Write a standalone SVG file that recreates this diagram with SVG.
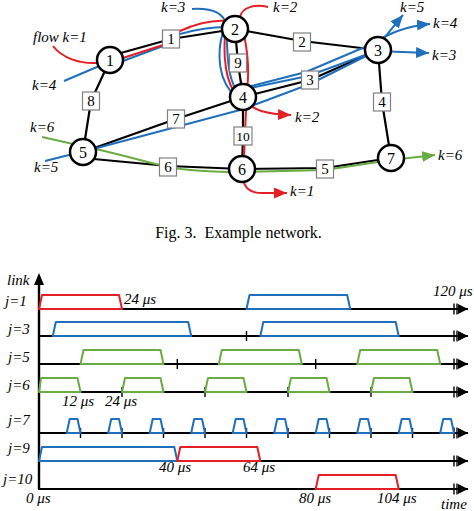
<svg xmlns="http://www.w3.org/2000/svg" width="474" height="511" viewBox="0 0 474 511">
<style>
text { font-family: "Liberation Serif", "Times New Roman", serif; fill:#000; }
.it { font-style: italic; font-size: 15px; }
.cap { font-size: 16px; text-anchor: middle; }
.edge { fill:none; stroke:#000; stroke-width:2.2; stroke-linejoin:round; }
.fr { fill:none; stroke:#e41f26; stroke-width:2; stroke-linejoin:round; }
.fb { fill:none; stroke:#1f6fbd; stroke-width:2; stroke-linejoin:round; }
.fg { fill:none; stroke:#6aab44; stroke-width:2; stroke-linejoin:round; }
.node circle { fill:#fff; stroke:#000; stroke-width:2.5; }
.node text { font-size:16px; text-anchor:middle; }
.lbl rect { fill:#fff; stroke:#808080; stroke-width:1.2; }
.lbl text { font-size:15px; text-anchor:middle; }
.axis { stroke:#000; stroke-width:2; fill:none; }
.tick { stroke:#000; stroke-width:1.4; fill:none; }
.pr { fill:none; stroke:#e41f26; stroke-width:2; stroke-linejoin:round; }
.pb { fill:none; stroke:#1f6fbd; stroke-width:2; stroke-linejoin:round; }
.pg { fill:none; stroke:#6aab44; stroke-width:2; stroke-linejoin:round; }
</style>
<defs>
<marker id="mr" markerUnits="userSpaceOnUse" viewBox="0 0 13 11" markerWidth="13" markerHeight="11" refX="13" refY="5.5" orient="auto"><path d="M0,0 L13,5.5 L0,11 z" fill="#e41f26"/></marker>
<marker id="mb" markerUnits="userSpaceOnUse" viewBox="0 0 13 11" markerWidth="13" markerHeight="11" refX="13" refY="5.5" orient="auto"><path d="M0,0 L13,5.5 L0,11 z" fill="#1f6fbd"/></marker>
<marker id="mg" markerUnits="userSpaceOnUse" viewBox="0 0 13 11" markerWidth="13" markerHeight="11" refX="13" refY="5.5" orient="auto"><path d="M0,0 L13,5.5 L0,11 z" fill="#6aab44"/></marker>
<marker id="mk" markerUnits="userSpaceOnUse" viewBox="0 0 10 10" markerWidth="10" markerHeight="10" refX="10" refY="5" orient="auto"><path d="M0,0 L10,5 L0,10 z" fill="#000"/></marker>
</defs>

<!-- network edges -->
<g id="edges">
<path class="edge" d="M110,56 L171,39 L235,29"/>
<path class="edge" d="M235,29 L302,41 L378,50"/>
<path class="edge" d="M243,97 L310,80 L378,50"/>
<path class="edge" d="M378,50 L382,102 L391,158"/>
<path class="edge" d="M242,169 L325,168 L391,158"/>
<path class="edge" d="M83,158 L168,166 L242,169"/>
<path class="edge" d="M83,152 L176,119 L243,97"/>
<path class="edge" d="M110,60 L91,101 L83,152"/>
<path class="edge" d="M235,29 L238,63 L243,97"/>
<path class="edge" d="M243,97 L243,136 L242,169"/>
</g>

<!-- flows -->
<g id="flows">
<path class="fg" marker-end="url(#mg)" d="M42,137 L100,150 C130,157 150,163 168,167 C190,171 215,172 241,172 L325,170 L391,160 L435,155"/>
<path class="fb" marker-end="url(#mb)" d="M45,161 L97,148 L240,110 L262,102 L310,84 L370,54 C382,42 392,28 403,15"/>
<path class="fb" marker-end="url(#mb)" d="M64,81 L97,67 L123,61 L163,46 L180,34 C198,29 212,27 226,27 C228,50 226,72 236,90 L306,72 L372,44 C388,34 405,26 430,24"/>
<path class="fb" marker-end="url(#mb)" d="M192,9 C210,8 223,12 226,24 C218,42 215,72 231,92 L308,76 L376,51 L429,53"/>
<path class="fr" marker-end="url(#mr)" d="M53,46 C62,58 80,64 97,63 L123,58 L163,45 L180,31 C198,23 212,20 226,21 C224,42 222,72 234,92 L246,110 L244,158 L243,178 C244,188 250,193 262,193 L287,193"/>
<path class="fr" marker-end="url(#mr)" d="M268,7 C255,4 242,7 240,17 C246,40 250,68 247,88 L248,102 C252,110 265,114 291,115"/>
</g>

<!-- link labels -->
<g id="link1" class="lbl"><rect x="162.5" y="30" width="17" height="18"/><text x="171" y="44">1</text></g>
<g id="link2" class="lbl"><rect x="293.5" y="33" width="17" height="18"/><text x="302" y="47">2</text></g>
<g id="link3" class="lbl"><rect x="301.5" y="71" width="17" height="18"/><text x="310" y="85">3</text></g>
<g id="link4" class="lbl"><rect x="373.5" y="93" width="17" height="18"/><text x="382" y="107">4</text></g>
<g id="link5" class="lbl"><rect x="316.5" y="160" width="17" height="18"/><text x="325" y="174">5</text></g>
<g id="link6" class="lbl"><rect x="159.5" y="158" width="17" height="18"/><text x="168" y="172">6</text></g>
<g id="link7" class="lbl"><rect x="167.5" y="110" width="17" height="18"/><text x="176" y="124">7</text></g>
<g id="link8" class="lbl"><rect x="82.5" y="92" width="17" height="18"/><text x="91" y="106">8</text></g>
<g id="link9" class="lbl"><rect x="229.5" y="54" width="17" height="18"/><text x="238" y="68">9</text></g>
<g id="link10" class="lbl"><rect x="234" y="127" width="18" height="18"/><text x="243" y="141" style="font-size:13.5px">10</text></g>

<!-- nodes -->
<g id="node1" class="node"><circle cx="110" cy="60" r="13"/><text x="110" y="65.5">1</text></g>
<g id="node2" class="node"><circle cx="235" cy="29" r="13"/><text x="235" y="34.5">2</text></g>
<g id="node3" class="node"><circle cx="378" cy="50" r="13"/><text x="378" y="55.5">3</text></g>
<g id="node4" class="node"><circle cx="243" cy="97" r="13"/><text x="243" y="102.5">4</text></g>
<g id="node5" class="node"><circle cx="83" cy="152" r="13"/><text x="83" y="157.5">5</text></g>
<g id="node6" class="node"><circle cx="242" cy="169" r="13"/><text x="242" y="174.5">6</text></g>
<g id="node7" class="node"><circle cx="391" cy="158" r="13"/><text x="391" y="163.5">7</text></g>

<!-- flow labels -->
<g id="flowlabels" class="it">
<text x="33" y="42">flow k=1</text>
<text x="32" y="90">k=4</text>
<text x="161" y="12">k=3</text>
<text x="273" y="12">k=2</text>
<text x="400" y="12">k=5</text>
<text x="433" y="28">k=4</text>
<text x="432" y="60">k=3</text>
<text x="295" y="122">k=2</text>
<text x="290" y="196">k=1</text>
<text x="438" y="160">k=6</text>
<text x="30" y="132">k=6</text>
<text x="34" y="172">k=5</text>
</g>

<text class="cap" x="238.5" y="238">Fig. 3.&#160; Example network.</text>

<!-- timeline -->
<g id="timeline">
<path class="axis" d="M39,489 L39,284" style="stroke-width:2.4"/>
<path d="M34,285 L39,273 L44,285 z" fill="#000"/>
<g class="axis" marker-end="url(#mk)">
<path d="M38,309 L468,309"/>
<path d="M38,336 L468,336"/>
<path d="M38,364 L468,364"/>
<path d="M38,392 L468,392"/>
<path d="M38,433 L468,433"/>
<path d="M38,461 L468,461"/>
<path d="M38,489 L468,489"/>
</g>
<path class="tick" d="M454,303.5 v11 M457,303.5 v11 M454,330.5 v11 M457,330.5 v11 M454,358.5 v11 M457,358.5 v11 M454,386.5 v11 M457,386.5 v11 M454,427.5 v11 M457,427.5 v11 M454,455.5 v11 M457,455.5 v11 M454,483.5 v11 M457,483.5 v11"/>
<path class="tick" d="M246.5,331 v10 M177.3,359 v10 M315.7,359 v10 M122,387 v10 M205,387 v10 M288,387 v10 M371,387 v10 M80.5,428 v10 M122,428 v10 M163.5,428 v10 M205,428 v10 M246.5,428 v10 M288,428 v10 M329.5,428 v10 M371,428 v10 M412.5,428 v10"/>
<!-- j=1 -->
<polygon class="pr" points="39,309 42,295 119,295 122,309"/>
<polygon class="pb" points="246.5,309 249.5,295 347.2,295 350.2,309"/>
<!-- j=3 -->
<polygon class="pb" points="52.8,336 55.8,322 188.2,322 191.2,336"/>
<polygon class="pb" points="260.3,336 263.3,322 395.7,322 398.7,336"/>
<!-- j=5 -->
<polygon class="pg" points="80.5,364 83.5,350 160.5,350 163.5,364"/>
<polygon class="pg" points="218.8,364 221.8,350 298.8,350 301.8,364"/>
<polygon class="pg" points="357.2,364 360.2,350 437.2,350 440.2,364"/>
<!-- j=6 -->
<polygon class="pg" points="39,392 41,378 77.5,378 80.5,392"/>
<polygon class="pg" points="122,392 125,378 160.5,378 163.5,392"/>
<polygon class="pg" points="205,392 208,378 243.5,378 246.5,392"/>
<polygon class="pg" points="288,392 291,378 326.5,378 329.5,392"/>
<polygon class="pg" points="371,392 374,378 409.5,378 412.5,392"/>
<!-- j=7 -->
<polygon class="pb" points="66.7,433 69.7,419 77.5,419 80.5,433"/>
<polygon class="pb" points="108.2,433 111.2,419 119,419 122,433"/>
<polygon class="pb" points="149.7,433 152.7,419 160.5,419 163.5,433"/>
<polygon class="pb" points="191.2,433 194.2,419 202,419 205,433"/>
<polygon class="pb" points="232.7,433 235.7,419 243.5,419 246.5,433"/>
<polygon class="pb" points="274.2,433 277.2,419 285,419 288,433"/>
<polygon class="pb" points="315.7,433 318.7,419 326.5,419 329.5,433"/>
<polygon class="pb" points="357.2,433 360.2,419 368,419 371,433"/>
<polygon class="pb" points="398.7,433 401.7,419 409.5,419 412.5,433"/>
<polygon class="pb" points="440.2,433 443.2,419 451,419 454,433"/>
<!-- j=9 -->
<polygon class="pb" points="39,461 42,447 174.3,447 177.3,461"/>
<polygon class="pr" points="177.3,461 180.3,447 257.3,447 260.3,461"/>
<!-- j=10 -->
<polygon class="pr" points="315.7,489 318.7,475 395.7,475 398.7,489"/>
</g>

<g id="timelabels" class="it">
<text x="7" y="285">link</text>
<text x="5" y="306">j=1</text>
<text x="8" y="334">j=3</text>
<text x="8" y="362">j=5</text>
<text x="8" y="390">j=6</text>
<text x="8" y="425">j=7</text>
<text x="8" y="453">j=9</text>
<text x="3" y="484">j=10</text>
<text x="124" y="304">24 μs</text>
<text x="433" y="296">120 μs</text>
<text x="62" y="406">12 μs</text>
<text x="105" y="406">24 μs</text>
<text x="159" y="472">40 μs</text>
<text x="243" y="472">64 μs</text>
<text x="26" y="503">0 μs</text>
<text x="299" y="503">80 μs</text>
<text x="377" y="503">104 μs</text>
<text x="441" y="509">time</text>
</g>
</svg>
